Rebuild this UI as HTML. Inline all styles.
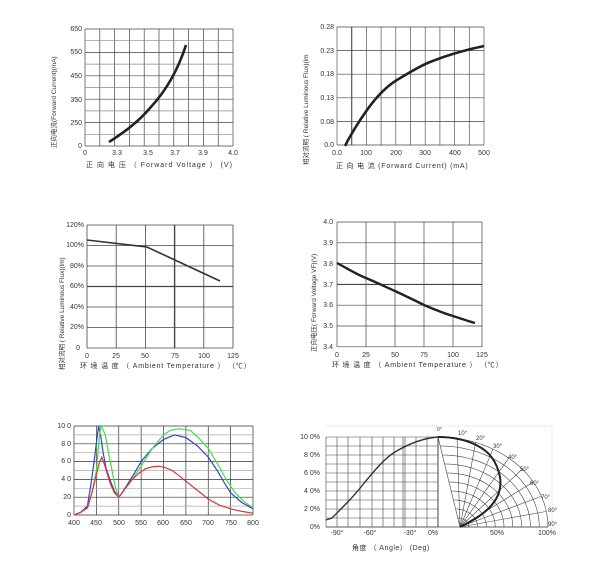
<!DOCTYPE html>
<html><head><meta charset="utf-8"><style>
body{margin:0;background:#fff}
svg{display:block}
text{font-family:"Liberation Sans","Noto Sans CJK SC",sans-serif;font-size:7px;fill:#333}
.g{stroke:#444;stroke-width:0.7;fill:none}
.lg{stroke:#999;stroke-width:0.6;fill:none}
</style></head><body>
<svg id="s" width="616" height="578" viewBox="0 0 616 578" xmlns="http://www.w3.org/2000/svg">
<g id="grids"></g>
<!-- chart1 -->
<path d="M109,142 C125,132 140,120 150,108 C165,92 178,70 186,45" stroke="#222" stroke-width="2.6" fill="none"/>
<text x="82" y="31" text-anchor="end">650</text><text x="82" y="54" text-anchor="end">550</text><text x="82" y="78" text-anchor="end">450</text><text x="82" y="102" text-anchor="end">350</text><text x="82" y="125" text-anchor="end">250</text><text x="82" y="148" text-anchor="end">0</text>
<text x="85" y="155" text-anchor="middle">0</text><text x="117" y="155" text-anchor="middle">3.3</text><text x="148" y="155" text-anchor="middle">3.5</text><text x="175" y="155" text-anchor="middle">3.7</text><text x="203" y="155" text-anchor="middle">3.9</text><text x="233" y="155" text-anchor="middle">4.0</text>
<text x="86" y="167" style="letter-spacing:1px">正 向 电 压 （ Forward  Voltage ）  (V)</text>
<text transform="translate(56,148) rotate(-90)" style="font-size:6.5px">正向电流(Forward  Current)(mA)</text>
<!-- chart2 -->
<path d="M345,146 C352,132 360,120 367,110 C377,96 387,86 397,80 C410,72 420,66 430,62 C445,56 460,51 484,46" stroke="#222" stroke-width="2.6" fill="none"/>
<text x="334" y="29" text-anchor="end">0.28</text><text x="334" y="53" text-anchor="end">0.23</text><text x="334" y="76" text-anchor="end">0.18</text><text x="334" y="100" text-anchor="end">0.13</text><text x="334" y="124" text-anchor="end">0.08</text><text x="334" y="147" text-anchor="end">0.0</text>
<text x="337" y="155" text-anchor="middle">0.0</text><text x="366" y="155" text-anchor="middle">100</text><text x="396" y="155" text-anchor="middle">200</text><text x="425" y="155" text-anchor="middle">300</text><text x="455" y="155" text-anchor="middle">400</text><text x="484" y="155" text-anchor="middle">500</text>
<text x="336" y="168" style="letter-spacing:0.8px">正 向 电 流 (Forward  Current) (mA)</text>
<text transform="translate(308,165) rotate(-90)" style="font-size:6.5px">相对流明 ( Relative  Luminous  Flux)(lm</text>
<!-- chart3 -->
<path d="M87,240 L147,247 L177,261 L220,281" stroke="#333" stroke-width="1.6" fill="none"/>
<text x="84" y="227" text-anchor="end">120%</text><text x="84" y="247" text-anchor="end">100%</text><text x="84" y="268" text-anchor="end">80%</text><text x="84" y="288" text-anchor="end">60%</text><text x="84" y="309" text-anchor="end">40%</text><text x="84" y="329" text-anchor="end">20%</text><text x="80" y="350" text-anchor="end">0</text>
<text x="87" y="358" text-anchor="middle">0</text><text x="116" y="358" text-anchor="middle">25</text><text x="145" y="358" text-anchor="middle">50</text><text x="175" y="358" text-anchor="middle">75</text><text x="204" y="358" text-anchor="middle">100</text><text x="233" y="358" text-anchor="middle">125</text>
<text x="80" y="368" style="letter-spacing:0.8px">环 境 温 度 （ Ambient  Temperature ） （℃）</text>
<text transform="translate(64,370) rotate(-90)" style="font-size:6.5px">相对流明 ( Relative  Luminous  Flux)(lm)</text>
<!-- chart4 -->
<path d="M337,263 C350,270 358,275 366,278 C380,284 388,288 395,291 C410,298 418,302 424,305 C438,311 446,314 453,316 C462,319 468,321 475,323" stroke="#222" stroke-width="2.4" fill="none"/>
<text x="333" y="224" text-anchor="end">4.0</text><text x="333" y="245" text-anchor="end">3.9</text><text x="333" y="266" text-anchor="end">3.8</text><text x="333" y="287" text-anchor="end">3.7</text><text x="333" y="307" text-anchor="end">3.6</text><text x="333" y="328" text-anchor="end">3.5</text><text x="333" y="349" text-anchor="end">3.4</text>
<text x="337" y="357" text-anchor="middle">0</text><text x="366" y="357" text-anchor="middle">25</text><text x="395" y="357" text-anchor="middle">50</text><text x="424" y="357" text-anchor="middle">75</text><text x="453" y="357" text-anchor="middle">100</text><text x="482" y="357" text-anchor="middle">125</text>
<text x="332" y="367" style="letter-spacing:0.8px">环 境 温 度 （ Ambient  Temperature ） （℃）</text>
<text transform="translate(316,352) rotate(-90)" style="font-size:6.5px">正向电压( Forward  Voltage  VF)(V)</text>
<!-- chart5 -->
<path id="blue" stroke="#3344cc" stroke-width="1.2" fill="none"/>
<path id="green" stroke="#44dd44" stroke-width="1.2" fill="none"/>
<path id="red" stroke="#dd3333" stroke-width="1.2" fill="none"/>
<text x="71" y="428" text-anchor="end">10 0</text><text x="71" y="446" text-anchor="end">8 0</text><text x="71" y="463" text-anchor="end">6 0</text><text x="71" y="481" text-anchor="end">4 0</text><text x="71" y="499" text-anchor="end">20</text><text x="71" y="517" text-anchor="end">0</text>
<text x="74" y="525" text-anchor="middle">400</text><text x="96" y="525" text-anchor="middle">450</text><text x="119" y="525" text-anchor="middle">500</text><text x="141" y="525" text-anchor="middle">550</text><text x="163" y="525" text-anchor="middle">600</text><text x="186" y="525" text-anchor="middle">650</text><text x="208" y="525" text-anchor="middle">700</text><text x="231" y="525" text-anchor="middle">750</text><text x="253" y="525" text-anchor="middle">800</text>
<!-- chart6 -->
<path d="M326,520 L332,518 C345,505 355,495 365,482 C375,470 385,458 395,452 C410,443 425,438 438,437" stroke="#333" stroke-width="1.4" fill="none"/>
<path d="M438,437 C455,437 467,440 478,446 C490,452 497,462 500,477 C502,490 497,500 489,508 C480,517 468,523 460,527" stroke="#222" stroke-width="2" fill="none"/>
<text x="320" y="439" text-anchor="end">10 0%</text><text x="320" y="457" text-anchor="end">8 0%</text><text x="320" y="475" text-anchor="end">6 0%</text><text x="320" y="493" text-anchor="end">4 0%</text><text x="320" y="511" text-anchor="end">2 0%</text><text x="320" y="529" text-anchor="end">0%</text>
<text x="337" y="535" text-anchor="middle">-90°</text><text x="370" y="535" text-anchor="middle">-60°</text><text x="410" y="535" text-anchor="middle">-30°</text><text x="433" y="535" text-anchor="middle">0%</text><text x="497" y="535" text-anchor="middle">50%</text><text x="547" y="535" text-anchor="middle">100%</text>
<text x="437" y="431" style="font-size:5px">0°</text><text x="458" y="435" style="font-size:6px">10°</text><text x="476" y="440" style="font-size:6px">20°</text><text x="493" y="448" style="font-size:6px">30°</text><text x="508" y="459" style="font-size:6px">40°</text><text x="520" y="471" style="font-size:6px">50°</text><text x="530" y="485" style="font-size:6px">60°</text><text x="541" y="499" style="font-size:6px">70°</text><text x="548" y="512" style="font-size:6px">80°</text><text x="548" y="526" style="font-size:6px">90°</text>
<text x="352" y="550" style="letter-spacing:0.5px">角度  （ Angle） (Deg)</text>
</svg>
<script>
var g=document.getElementById('grids'),h='';
function L(x1,y1,x2,y2,c,w){h+='<line x1="'+x1+'" y1="'+y1+'" x2="'+x2+'" y2="'+y2+'" stroke="'+(c||'#444')+'" stroke-width="'+(w||0.7)+'"/>';}
// c1
for(var i=0;i<=10;i++)L(85+i*14.8,29,85+i*14.8,146);
for(var i=0;i<=10;i++)L(85,29+i*11.7,233,29+i*11.7,i%2?'#888':'#444');
// c2
for(var i=0;i<=10;i++)L(337+i*14.7,27,337+i*14.7,145,'#555',i==1?1.2:0.7);
for(var i=0;i<=5;i++)L(337,27+i*23.6,484,27+i*23.6);
// c3
for(var i=0;i<=5;i++)L(87+i*29.2,225,87+i*29.2,348,'#444',i==3?1.4:0.8);
for(var i=0;i<=6;i++)L(87,225+i*20.5,233,225+i*20.5,'#444',i==3?1.2:0.7);
// c4
for(var i=0;i<=5;i++)L(337+i*29,222,337+i*29,347);
for(var i=0;i<=6;i++)L(337,222+i*20.8,482,222+i*20.8,'#444',i==3?1.1:0.7);
// c5
for(var i=0;i<=8;i++)L(74+i*22.375,426,74+i*22.375,515,'#333',0.7);
for(var i=0;i<=10;i++)L(74,426+i*8.9,253,426+i*8.9,i%2?'#aaa':'#333',0.7);
// c6 rect grid
for(var i=0;i<=10;i++)L(326,437+i*9,438,437+i*9,'#444',0.6);
var vx=[326,337,348,360,372,383,394,403,405,416,427,438];
vx.forEach(function(x,k){L(x,437,x,527,'#444',k==11?1:0.6);});
L(326,527,548,527,'#444',0.8);
h+='<path d="M326,426 H552 V532" stroke="#aaa" stroke-width="0.5" stroke-dasharray="1,1" fill="none"/>';
// polar
var cx=460,cy=527;
function outer(t){return [438+110*Math.sin(t),527-90*Math.cos(t)];}
for(var k=1;k<=10;k++){var f=k/10,d='';for(var a=0;a<=90;a+=3){var t=a*Math.PI/180,o=outer(t);var x=cx+f*(o[0]-cx),y=cy+f*(o[1]-cy);d+=(a?'L':'M')+x.toFixed(1)+','+y.toFixed(1);}h+='<path d="'+d+'" stroke="#444" stroke-width="0.6" fill="none"/>';}
for(var a=0;a<=90;a+=10){var t=a*Math.PI/180,o=outer(t);L(cx,cy,o[0],o[1],'#444',0.6);}
g.innerHTML=h;
function P(id,pts){var d='';pts.forEach(function(p,i){var x=74+(p[0]-400)*0.4475,y=515-p[1]*0.89;d+=(i?'L':'M')+x.toFixed(1)+','+y.toFixed(1);});document.getElementById(id).setAttribute('d',d);}
P('blue',[[400,0],[415,3],[430,10],[438,35],[445,60],[451,85],[455,100],[460,88],[465,70],[472,52],[480,40],[490,27],[500,20],[510,27],[520,35],[535,47],[550,60],[575,75],[600,85],[625,90],[650,87],[675,78],[700,65],[720,50],[735,37],[750,25],[775,14],[800,7]]);
P('green',[[400,0],[415,3],[430,8],[440,25],[450,50],[456,85],[460,100],[465,96],[470,90],[477,70],[485,50],[492,32],[500,20],[515,30],[530,40],[550,55],[575,75],[600,90],[615,95],[635,97],[660,95],[680,86],[700,75],[720,58],[740,40],[760,25],[780,15],[800,8]]);
P('red',[[400,0],[415,3],[430,8],[440,25],[450,45],[456,58],[462,65],[468,57],[475,45],[482,34],[490,25],[500,20],[515,30],[530,40],[545,47],[560,52],[575,54],[590,55],[605,53],[620,50],[635,44],[650,38],[675,28],[700,18],[725,11],[750,7],[775,4],[800,2]]);
</script>
</body></html>
